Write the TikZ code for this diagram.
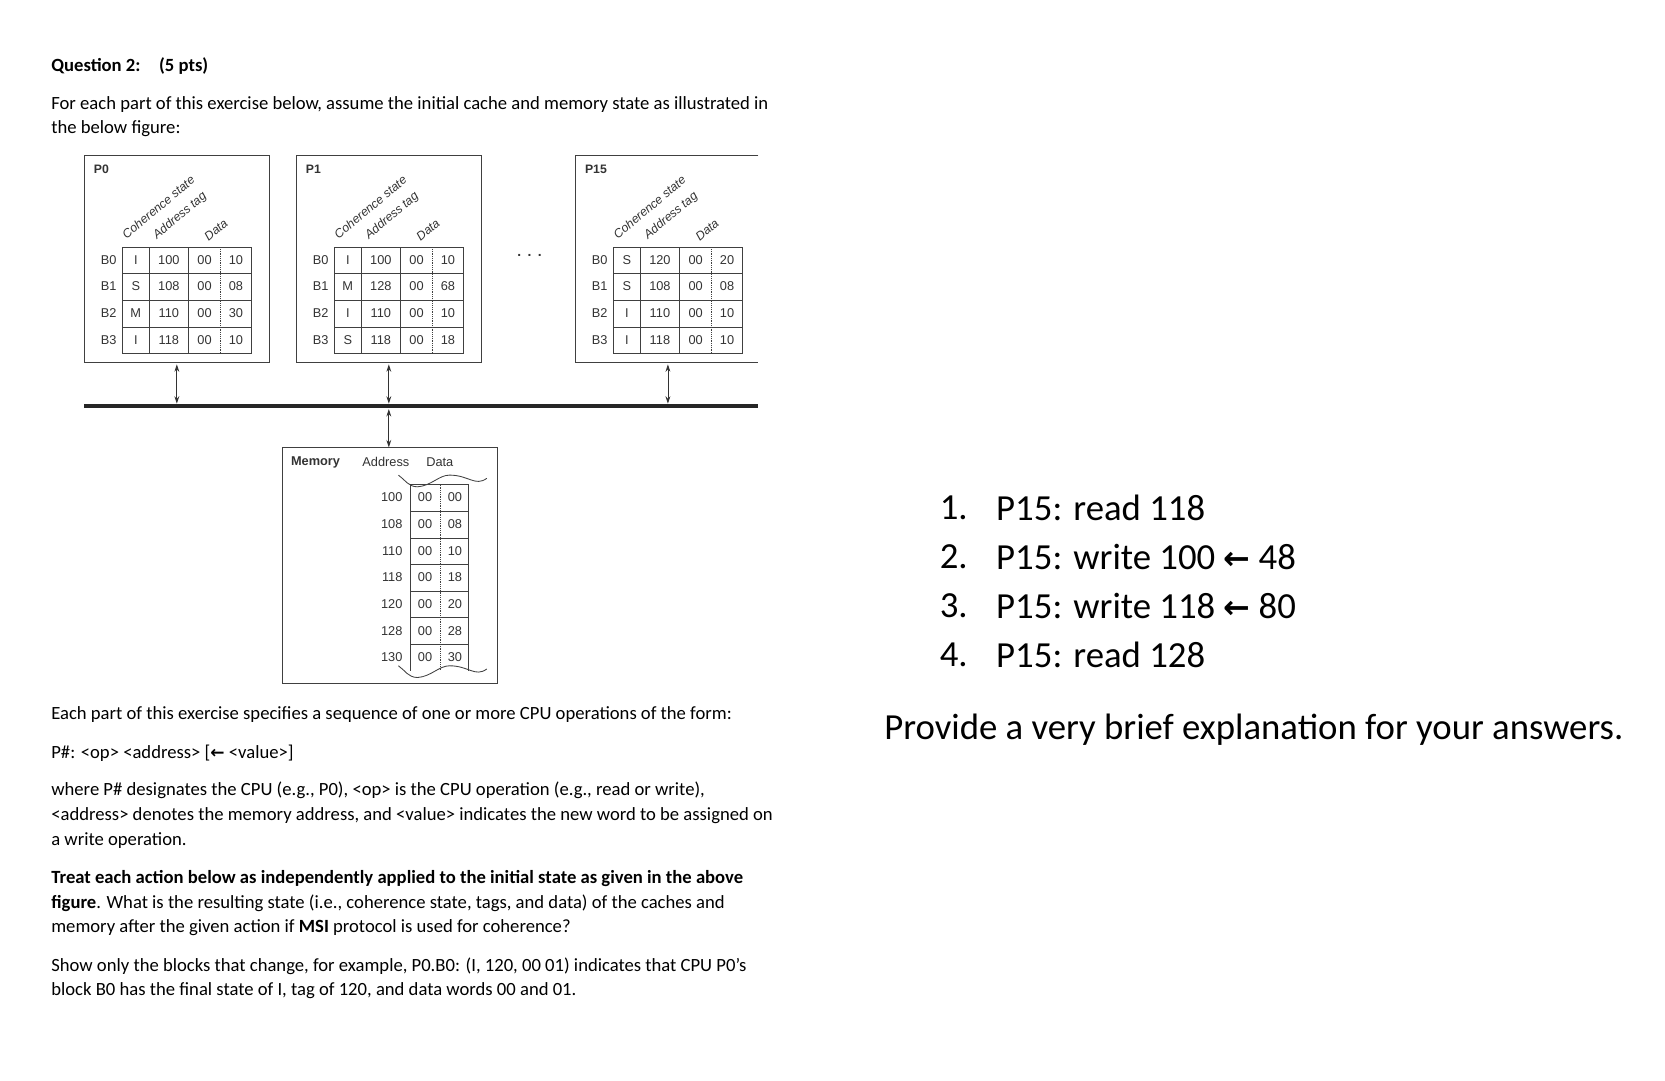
\documentclass[tikz,border=0pt]{standalone}
\usepackage{fontspec}
\usetikzlibrary{arrows.meta}
\setmainfont{Carlito}
\newfontfamily\arial{Liberation Sans}
\newfontfamily\dvs{DejaVu Sans}
\begin{document}
\begin{tikzpicture}[x=1pt,y=-1pt,
  body/.style={anchor=west,inner sep=0pt,font=\fontsize{17.5}{20}\selectfont},
  big/.style={anchor=west,inner sep=0pt,font=\fontsize{34.5}{38}\selectfont},
  dg/.style={inner sep=0pt,font=\arial\fontsize{12}{14}\selectfont,text=black!80},
  hdr/.style={inner sep=0pt,anchor=south west,rotate=40,font=\arial\itshape\fontsize{11.5}{13}\selectfont,text=black!80},
  ln/.style={draw=black!75,line width=0.8pt},
  dt/.style={draw=black!75,densely dotted,line width=0.7pt},
  bidir/.style={draw=black!80,line width=0.8pt,{Stealth[length=7pt,width=4.5pt]}-{Stealth[length=7pt,width=4.5pt]}}]
\useasboundingbox (0,0) rectangle (1563,1014);
\fill[white] (0,0) rectangle (1563,1014);
\node[body,font=\bfseries\fontsize{17.5}{20}\selectfont] (q) at (48,62) {Question 2:\quad (5 pts)};
\node[body] (l1) at (48,98) {For each part of this exercise below, assume the initial cache and memory state as illustrated in};
\node[body] (l2) at (48,121) {the below figure:};
% caches
\foreach \ox/\pn/\rows/\rt in {0/P0/{I/100/10,S/108/08,M/110/30,I/118/10}/1,
                           199/P1/{I/100/10,M/128/68,I/110/10,S/118/18}/1,
                           461/P15/{S/120/20,S/108/08,I/110/10,I/118/10}/0}{
  \begin{scope}[xshift=\ox]
    \ifnum\rt=1
      \draw[ln] (79,146) rectangle (253,340);
    \else
      \draw[ln] (251,146) -- (79,146) -- (79,340) -- (251,340);
    \fi
    \node[dg,anchor=west,font=\arial\bfseries\fontsize{11.5}{13}\selectfont] (pn\pn) at (88,159) {\pn};
    \node[hdr] at (119,225) {Coherence state};
    \node[hdr] at (149,227) {Address tag};
    \node[hdr] at (196,227) {Data};
    \draw[ln] (115,232) rectangle (236,332);
    \foreach \yy in {257,282,307} \draw[ln] (115,\yy) -- (236,\yy);
    \draw[ln] (140,232) -- (140,332);
    \draw[ln] (177,232) -- (177,332);
    \draw[dt] (207,232) -- (207,332);
    \foreach [count=\i from 0] \s/\t/\d in \rows {
      \pgfmathsetmacro\yc{244+25*\i}
      \node[dg] at (102,\yc) {B\i};
      \node[dg] at (127.5,\yc) {\s};
      \node[dg] at (158.5,\yc) {\t};
      \node[dg] at (192,\yc) {00};
      \node[dg] at (221.5,\yc) {\d};
    }
  \end{scope}
}
\node[dg,font=\arial\bfseries\fontsize{13}{13}\selectfont] (dots) at (497,240) {.\hspace{6pt}.\hspace{6pt}.};
% bus
\draw[line width=3.5pt,black!85] (79,381) -- (712,381);
\coordinate (b0) at (166,379); \coordinate (c0) at (166,342);
\coordinate (b1) at (365,379); \coordinate (c1) at (365,342);
\coordinate (b2) at (627,379); \coordinate (c2) at (627,342);
\coordinate (bm) at (365,384); \coordinate (mt) at (365,420);
\draw[bidir] (c0) -- (b0);
\draw[bidir] (c1) -- (b1);
\draw[bidir] (c2) -- (b2);
\draw[bidir] (bm) -- (mt);
% memory
\draw[ln] (265,420) rectangle (467,642);
\node[dg,anchor=west,font=\arial\bfseries\fontsize{12}{14}\selectfont] (mem) at (273,434) {Memory};
\node[dg,anchor=west] at (340,434) {Address};
\node[dg,anchor=west] at (400,434) {Data};
\draw[ln] (385,455) -- (385,630);
\draw[ln] (440,455) -- (440,630);
\draw[dt] (413,455) -- (413,630);
\foreach \yy in {455,480,505,530,555,580,605} \draw[ln] (385,\yy) -- (440,\yy);
\draw[ln] (374,446) .. controls (380,450) and (383,457) .. (392,457) .. controls (405,456) and (412,446) .. (422,446) .. controls (440,446) and (446,457) .. (457,449);
\draw[ln] (374,625) .. controls (380,629) and (383,636) .. (392,636) .. controls (405,635) and (412,625) .. (422,625) .. controls (440,625) and (446,636) .. (457,628);
\foreach [count=\i from 0] \a/\d in {100/00,108/08,110/10,118/18,120/20,128/28,130/30}{
  \pgfmathsetmacro\yc{467+25*\i}
  \node[dg,anchor=east] at (378,\yc) {\a};
  \node[dg] at (399,\yc) {00};
  \node[dg] at (427,\yc) {\d};
}
% text below
\node[body] (t1) at (48,671) {Each part of this exercise specifies a sequence of one or more CPU operations of the form:};
\node[body] (t2) at (48,707) {P\#: <op> <address> [{\dvs\bfseries\fontsize{16}{18}\selectfont ←} <value>]};
\node[body] (t3) at (48,742) {where P\# designates the CPU (e.g., P0), <op> is the CPU operation (e.g., read or write),};
\node[body] (t4) at (48,766) {<address> denotes the memory address, and <value> indicates the new word to be assigned on};
\node[body] (t5) at (48,789) {a write operation.};
\node[body] (t6) at (48,825) {\textbf{Treat each action below as independently applied to the initial state as given in the above}};
\node[body] (t7) at (48,848) {\textbf{figure}. What is the resulting state (i.e., coherence state, tags, and data) of the caches and};
\node[body] (t8) at (48,871) {memory after the given action if \textbf{MSI} protocol is used for coherence?};
\node[body] (t9) at (48,907) {Show only the blocks that change, for example, P0.B0: (I, 120, 00 01) indicates that CPU P0’s};
\node[body] (t10) at (48,930) {block B0 has the final state of I, tag of 120, and data words 00 and 01.};
% right list
\foreach [count=\i] \txt in {P15: read 118,P15: write 100 {\dvs\bfseries\fontsize{30}{34}\selectfont ←} 48,P15: write 118 {\dvs\bfseries\fontsize{30}{34}\selectfont ←} 80,P15: read 128}{
  \pgfmathsetmacro\yc{477+46*(\i-1)}
  \node[big] at (882,\yc) {\i.};
  \node[big] at (935,\yc) {\txt};
}
\node[big] (prov) at (830,685) {Provide a very brief explanation for your answers.};
\end{tikzpicture}
\end{document}
